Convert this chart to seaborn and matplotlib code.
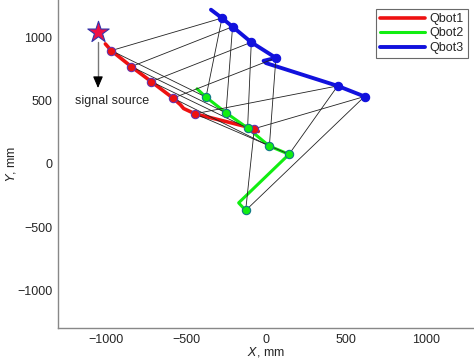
import matplotlib
matplotlib.use('Agg')
import matplotlib.pyplot as plt
import numpy as np
import pandas as pd
import seaborn as sns

# robot positions at each of the 6 sampled steps (mm)
red_x = [-967, -842, -717, -581, -444, -73]
red_y = [899, 772, 653, 522, 398, 280]
green_x = [-375, -250, -115, 21, 144, -127]
green_y = [530, 406, 285, 142, 77, -368]
blue_x = [-275, -209, -92, 62, 448, 616]
blue_y = [1157, 1088, 965, 841, 619, 535]

# full trajectories
red_path_x = [-1004, -967, -842, -717, -581, -535, -515, -444, -73, -48]
red_path_y = [952, 899, 772, 653, 522, 470, 440, 398, 280, 258]
green_path_x = [-431, -375, -250, -115, 21, 144, -171, -127]
green_path_y = [596, 530, 406, 285, 142, 77, -308, -368]
blue_path_x = [-344, -275, -209, -92, 62, -15, 0, 448, 616, 631]
blue_path_y = [1223, 1157, 1088, 965, 841, 818, 800, 619, 535, 525]

source_x, source_y = -1050, 1050
names = ['Qbot1', 'Qbot2', 'Qbot3']
colors = ['#ee1111', '#11ee11', '#1111dd']
edges = ['#6633aa', '#117788', '#1111dd']

sns.set_style('white')
plt.rcParams['font.family'] = ['Liberation Sans', 'DejaVu Sans']

fig = plt.figure(figsize=(4.74, 3.61), dpi=100)
ax = fig.add_axes([58 / 474, 33 / 361, 416 / 474, 328 / 361])

paths = [(red_path_x, red_path_y, 2.6), (green_path_x, green_path_y, 2.2),
         (blue_path_x, blue_path_y, 2.8)]
for (px, py, lw), name, c in zip(paths, names, colors):
    df = pd.DataFrame({'x': px, 'y': py})
    sns.lineplot(data=df, x='x', y='y', sort=False, estimator=None, color=c,
                 lw=lw, label=name, ax=ax, zorder=2)

# formation triangles at each step
for i in range(len(red_x)):
    tx = [red_x[i], green_x[i], blue_x[i], red_x[i]]
    ty = [red_y[i], green_y[i], blue_y[i], red_y[i]]
    ax.plot(tx, ty, color='#222222', lw=0.6, zorder=3)

pts = [(red_x, red_y), (green_x, green_y), (blue_x, blue_y)]
for (px, py), c, e in zip(pts, colors, edges):
    sns.scatterplot(x=px, y=py, color=c, edgecolor=e, s=36, linewidth=0.8,
                    ax=ax, zorder=4, legend=False)

# signal source
ax.plot([source_x, source_x], [970, 640], color='#777777', lw=1.0, zorder=3)
ax.annotate('', xy=(source_x, 580), xytext=(source_x, 660),
            arrowprops=dict(arrowstyle='-|>,head_width=0.3,head_length=0.7',
                            color='black', lw=0.8))
sns.scatterplot(x=[source_x], y=[source_y], marker='*', s=260, color='#ee1144',
                edgecolor='#3333aa', linewidth=0.8, ax=ax, zorder=5, legend=False)
ax.text(-962, 498, 'signal source', ha='center', va='center', fontsize=9)

ax.set_xlim(-1300, 1300)
ax.set_ylim(-1300, 1300)
ax.set_xticks([-1000, -500, 0, 500, 1000])
ax.set_yticks([-1000, -500, 0, 500, 1000])
ax.set_xticklabels(['\u22121000', '\u2212500', '0', '500', '1000'])
ax.set_yticklabels(['\u22121000', '\u2212500', '0', '500', '1000'])
ax.tick_params(direction='in', length=3, color='#888888', labelsize=9,
               width=0.8, pad=4)
ax.set_xlabel(r'$X$, mm', fontsize=9, va='center')
ax.set_ylabel(r'$Y$, mm', fontsize=9, va='center')
ax.xaxis.set_label_coords(0.5, -0.072)
ax.yaxis.set_label_coords(-0.113, 0.5)
for s in ['top', 'right']:
    ax.spines[s].set_visible(False)
for s in ['left', 'bottom']:
    ax.spines[s].set_color('#888888')
    ax.spines[s].set_linewidth(1.0)

leg = ax.legend(loc='upper right', bbox_to_anchor=(0.985, 0.972), fontsize=9,
                handlelength=3.6, frameon=True, fancybox=False, borderpad=0.3,
                labelspacing=0.2, handletextpad=0.4, borderaxespad=0)
leg.get_frame().set_edgecolor('#444444')
leg.get_frame().set_linewidth(0.8)

fig.savefig('out.png', dpi=100)
